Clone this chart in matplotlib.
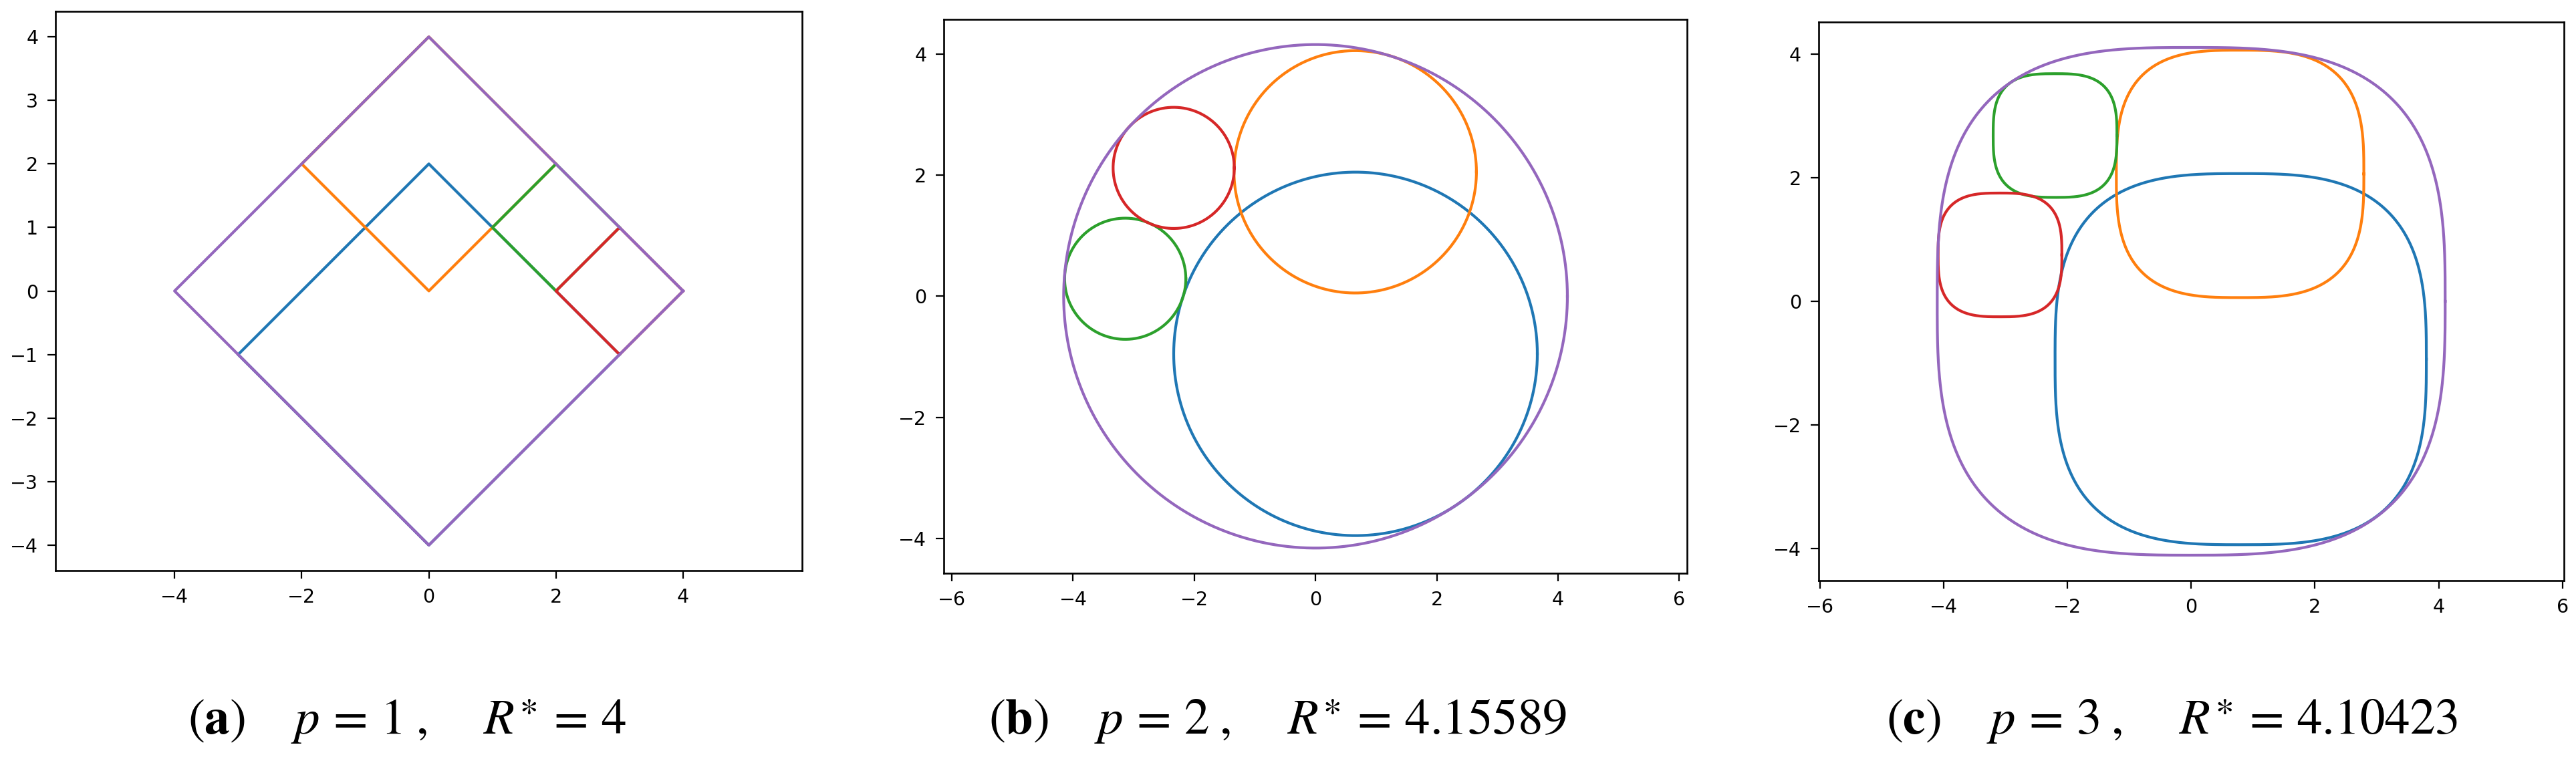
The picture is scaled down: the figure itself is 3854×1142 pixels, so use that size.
import numpy as np
import matplotlib
matplotlib.use('Agg')
from matplotlib import pyplot as plt
from matplotlib.ticker import MultipleLocator

# norm order of each panel and container radius R*
P_VALUES = [1, 2, 3]
R_STAR = [4.0, 4.15589, 4.10423]

# inner balls: radii (blue, orange, green, red)
RADII = [3.0, 2.0, 1.0, 1.0]

# centres per panel, order blue, orange, green, red
CX_P1 = [0.0, 0.0, 2.0, 3.0]
CY_P1 = [-1.0, 2.0, 1.0, 0.0]
CX_P2 = [0.66, 0.655, -3.14, -2.34]
CY_P2 = [-0.95, 2.055, 0.29, 2.12]
CX_P3 = [0.80, 0.79, -2.20, -3.09]
CY_P3 = [-0.935, 2.06, 2.68, 0.75]

CAPTIONS = [r'$(\mathbf{a})\ \ \ \ p\,=\,1\;,\ \ \ \ R^{\ast}\,=\,4$',
            r'$(\mathbf{b})\ \ \ \ p\,=\,2\;,\ \ \ \ R^{\ast}\,=\,4.15589$',
            r'$(\mathbf{c})\ \ \ \ p\,=\,3\;,\ \ \ \ R^{\ast}\,=\,4.10423$']
CAPTION_X = [0.158, 0.496, 0.843]

YSTEP = [1, 2, 2]

AXPOS = [[0.02153, 0.2522, 0.2898, 0.7329],
         [0.3663, 0.2487, 0.2885, 0.7259],
         [0.7058, 0.2391, 0.2892, 0.7320]]

plt.rcParams['mathtext.fontset'] = 'stix'


def lpBall(cx, cy, r, p, n=2000):
    t = np.linspace(0, 2 * np.pi, n)
    c, s = np.cos(t), np.sin(t)
    x = cx + r * np.sign(c) * np.abs(c) ** (2.0 / p)
    y = cy + r * np.sign(s) * np.abs(s) ** (2.0 / p)
    return x, y


fig = plt.figure(figsize=(38.55, 11.42), dpi=100)
centres = [(CX_P1, CY_P1), (CX_P2, CY_P2), (CX_P3, CY_P3)]

for i, p in enumerate(P_VALUES):
    ax = fig.add_axes(AXPOS[i])
    cxs, cys = centres[i]
    for j, r in enumerate(RADII):
        x, y = lpBall(cxs[j], cys[j], r, p)
        ax.plot(x, y, color='C%d' % j, lw=3.0)
    x, y = lpBall(0.0, 0.0, R_STAR[i], p)
    ax.plot(x, y, color='C4', lw=3.0)

    ax.set_aspect('equal', adjustable='datalim')
    ax.xaxis.set_major_locator(MultipleLocator(2))
    ax.yaxis.set_major_locator(MultipleLocator(YSTEP[i]))
    ax.tick_params(labelsize=20.5, length=8.5, width=1.6, pad=10)
    for sp in ax.spines.values():
        sp.set_linewidth(1.9)

    fig.text(CAPTION_X[i], 0.0385, CAPTIONS[i], ha='center', va='baseline',
             fontsize=54)

fig.savefig('out.png', dpi=100)
